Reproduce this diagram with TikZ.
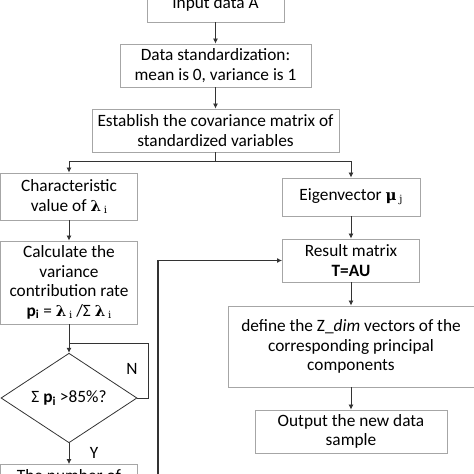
\documentclass[tikz,border=0pt]{standalone}
\usepackage{fontspec}
\setmainfont{Carlito}
\newfontfamily\grkfont{DejaVu Serif}
\usetikzlibrary{arrows.meta,shapes.geometric,calc}
\definecolor{boxgray}{HTML}{A6A6A6}
\definecolor{linedark}{HTML}{333333}
\newcommand{\subsm}[1]{{\grkfont\fontsize{10}{10}\selectfont\raisebox{-0.35ex}{#1}}}
\newcommand{\lami}{{\grkfont\bfseries\fontsize{15}{15}\selectfont λ}\,\subsm{i}}
\newcommand{\pbold}{\textbf{p\textsubscript{i}}}
\tikzset{
  box/.style={draw=boxgray, line width=0.9pt, rectangle, align=center, inner sep=1pt,
    font=\fontsize{17.3}{19.5}\selectfont, text=black},
  decbox/.style={draw=linedark, line width=0.8pt, diamond, inner sep=0pt, align=center,
    font=\fontsize{17.3}{19.5}\selectfont},
  conn/.style={draw=linedark, line width=0.8pt},
  arr/.style={conn, -{Latex[length=5pt,width=5pt]}},
  bigline/.style={draw=linedark, line width=1.3pt, -{Latex[length=5pt,width=5pt]}},
  lbl/.style={font=\fontsize{17.3}{19.5}\selectfont, inner sep=0pt}
}
\begin{document}
\begin{tikzpicture}[x=1pt,y=-1pt]
\useasboundingbox (0,0) rectangle (474,474);
\clip (0,0) rectangle (474,474);

\node[box, minimum width=137pt, minimum height=36pt] (in) at (215.5,4) {Input data A};
\node[box, minimum width=191pt, minimum height=43pt] (std) at (215.5,65.5) {Data standardization:\\mean is 0, variance is 1};
\node[box, minimum width=247pt, minimum height=43pt] (cov) at (215.5,130.5) {Establish the covariance matrix of\\standardized variables};

\node[box, minimum width=137pt, minimum height=47pt] (char) at (69,196.5) {Characteristic\\value of \lami};
\node[box, minimum width=137pt, minimum height=83pt] (calc) at (69,282.5) {Calculate the\\variance\\contribution rate\\\pbold{} = \lami{} /Σ \lami};
\node[decbox, minimum width=136pt, minimum height=89pt] (dia) at (69,398) {Σ \pbold{} >85\%?};
\node[box, minimum width=137pt, minimum height=23pt] (num) at (69,476) {The number of};

\node[box, minimum width=138pt, minimum height=38pt] (eig) at (351,197) {Eigenvector {\grkfont\bfseries\fontsize{15}{15}\selectfont μ}\,\subsm{j}};
\node[box, minimum width=137pt, minimum height=43pt] (res) at (351,260.5) {Result matrix\\\textbf{T=AU}};
\node[box, minimum width=246pt, minimum height=81pt] (def) at (351,346.5) {define the Z\_\textit{dim} vectors of the\\corresponding principal\\components};
\node[box, minimum width=192pt, minimum height=43pt] (out) at (351,431.5) {Output the new data\\sample};

\draw[arr] (in.south) -- (std.north);
\draw[arr] (std.south) -- (cov.north);
\draw[conn] (cov.south) -- ++(0,9) coordinate (sp);
\draw[arr] (sp) -| (char.north);
\draw[arr] (sp) -| (eig.north);
\draw[arr] (char.south) -- (calc.north);
\draw[arr] (calc.south) -- (dia.north);
\coordinate (loopj) at (69,343);
\draw[conn] (dia.east) -- ++(11,0) |- (loopj);
\node[lbl] (nl) at (132,369) {N};
\draw[arr] (dia.south) -- (num.north);
\node[lbl] (yl) at (94,453) {Y};

\coordinate (bl) at (158,480);
\draw[bigline] (bl) |- (res.west);
\draw[arr] (eig.south) -- (res.north);
\draw[arr] (res.south) -- (def.north);
\draw[arr] (def.south) -- (out.north);
\end{tikzpicture}
\end{document}
